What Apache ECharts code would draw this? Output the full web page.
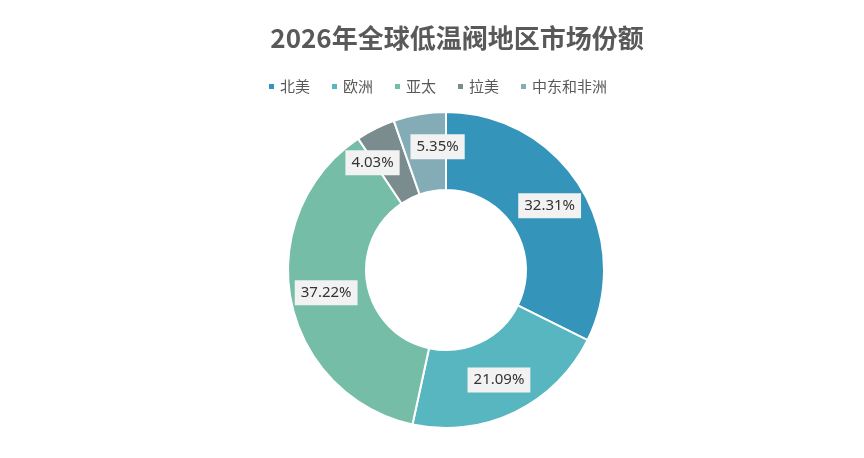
<!DOCTYPE html>
<html>
<head>
<meta charset="utf-8">
<script src="https://cdn.jsdelivr.net/npm/echarts@6/dist/echarts.min.js"></script>
<style>
  html, body { margin: 0; padding: 0; background: #fff; }
  #donutChart { width: 864px; height: 458px; }
</style>
</head>
<body>
<div id="donutChart"></div>
<script>
var regions = ['北美', '欧洲', '亚太', '拉美', '中东和非洲'];
var shares = [32.31, 21.09, 37.22, 4.03, 5.35];
var colors = ['#3494BA', '#58B6C0', '#75BDA7', '#7A8C8E', '#84ACB6'];
// small slices: Excel nudges these labels apart
var labelShift = [null, null, null, [-19, 2], [12, -3]];

var chartDom = document.getElementById('donutChart');
var myChart = echarts.init(chartDom);
var option;

option = {
  color: colors,
  title: {
    text: '2026年全球低温阀地区市场份额',
    left: 452,
    textAlign: 'center',
    top: 20,
    textStyle: {
      fontFamily: 'Noto Sans CJK SC',
      fontSize: 26,
      fontWeight: 'bold',
      color: '#595959'
    }
  },
  legend: {
    top: 74,
    left: 262,
    icon: 'rect',
    itemWidth: 7,
    itemHeight: 7,
    itemGap: 20,
    textStyle: {
      fontFamily: 'Noto Sans CJK SC',
      fontSize: 15,
      color: '#595959'
    },
    data: regions
  },
  series: [
    {
      type: 'pie',
      center: [446, 270],
      radius: [80, 158],
      startAngle: 90,
      clockwise: true,
      avoidLabelOverlap: false,
      itemStyle: {
        borderColor: '#fff',
        borderWidth: 2
      },
      label: {
        show: true,
        position: 'inside',
        formatter: function (p) { return p.value.toFixed(2) + '%'; },
        fontFamily: 'Noto Sans',
        fontSize: 15,
        color: '#333333',
        backgroundColor: '#F2F2F2',
        padding: [5, 6]
      },
      labelLine: { show: false },
      emphasis: { disabled: true },
      data: regions.map(function (r, i) {
        var item = { name: r, value: shares[i] };
        if (labelShift[i]) item.label = { offset: labelShift[i] };
        return item;
      })
    }
  ]
};

option && myChart.setOption(option);
</script>
</body>
</html>
